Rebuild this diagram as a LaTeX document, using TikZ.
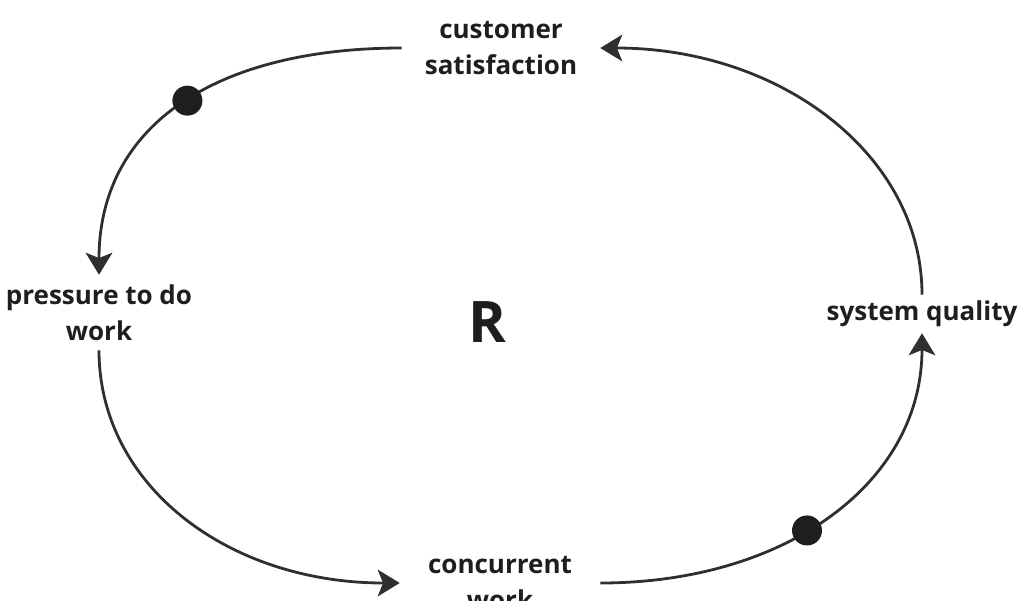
\documentclass[tikz,border=0pt]{standalone}
\usepackage{fontspec}
\setmainfont{Open Sans}
\usetikzlibrary{arrows.meta}
\definecolor{ink}{HTML}{1E1E1E}
\definecolor{wire}{HTML}{2F2F2F}
\begin{document}
\begin{tikzpicture}[x=0.75pt,y=-0.75pt,
 lbl/.style={font=\bfseries\fontsize{19.5}{27}\selectfont, text=ink, inner sep=0pt, align=center},
 link/.style={draw=wire, line width=2.1pt, -{Stealth[length=16.5pt,width=20pt,inset=4pt]}},
 polarity/.style={circle, fill=ink, inner sep=0pt, minimum size=22.5pt}]
\useasboundingbox (0,0) rectangle (1030,600);
\node[lbl, minimum width=148.5pt] (cs) at (501,48) {customer\\satisfaction};
\node[lbl, minimum height=56.25pt] (pw) at (99,312.5) {pressure to do\\work};
\node[lbl, minimum height=28.5pt] (sq) at (922,314) {system quality};
\node[lbl, minimum width=150pt] (cw) at (500,583) {concurrent\\work};
\node[font=\bfseries\fontsize{43}{50}\selectfont, text=ink, inner sep=0pt] (r) at (487,322) {R};
\draw[link] (cs.west) .. controls +(-185,0) and +(0,-150) .. node[polarity, pos=0.48] (d1) {} (pw.north);
\draw[link] (pw.south) .. controls +(0,135) and +(-172,0) .. (cw.west);
\draw[link] (cw.east) .. controls +(185,0) and +(0,150) .. node[polarity, pos=0.435] (d2) {} (sq.south);
\draw[link] (sq.north) .. controls +(0,-140) and +(180,0) .. (cs.east);
\end{tikzpicture}
\end{document}
